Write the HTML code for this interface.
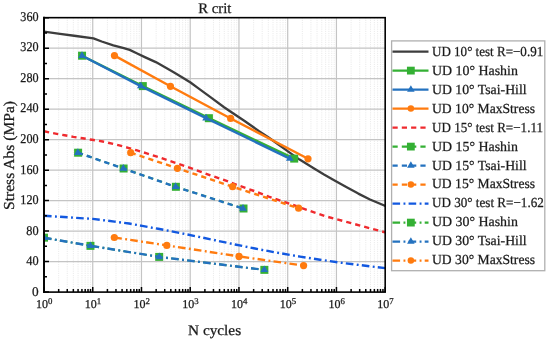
<!DOCTYPE html>
<html><head><meta charset="utf-8"><style>
html,body{margin:0;padding:0;background:#fff;}
svg{display:block;will-change:transform;}
text{font-family:"Liberation Serif",serif;fill:#1a1a1a;stroke:#1a1a1a;stroke-width:0.25px;text-rendering:geometricPrecision;}
.txtg{will-change:transform;}
.t{font-size:13.3px;}
.t2{font-size:12.0px;}
.sup{font-size:8.8px;}
.ti{font-size:14.6px;}
#ylab{font-size:15.2px;}
.lg{font-size:13.8px;}
</style></head><body>
<svg width="550" height="343" viewBox="0 0 550 343">
<rect width="550" height="343" fill="#fff"/>
<path d="M58.67 17.67V292.10 M67.25 17.67V292.10 M73.34 17.67V292.10 M78.07 17.67V292.10 M81.93 17.67V292.10 M85.19 17.67V292.10 M88.02 17.67V292.10 M90.51 17.67V292.10 M107.41 17.67V292.10 M115.99 17.67V292.10 M122.08 17.67V292.10 M126.81 17.67V292.10 M130.67 17.67V292.10 M133.93 17.67V292.10 M136.76 17.67V292.10 M139.25 17.67V292.10 M156.15 17.67V292.10 M164.73 17.67V292.10 M170.82 17.67V292.10 M175.55 17.67V292.10 M179.41 17.67V292.10 M182.67 17.67V292.10 M185.50 17.67V292.10 M187.99 17.67V292.10 M204.89 17.67V292.10 M213.47 17.67V292.10 M219.56 17.67V292.10 M224.29 17.67V292.10 M228.15 17.67V292.10 M231.41 17.67V292.10 M234.24 17.67V292.10 M236.73 17.67V292.10 M253.63 17.67V292.10 M262.21 17.67V292.10 M268.30 17.67V292.10 M273.03 17.67V292.10 M276.89 17.67V292.10 M280.15 17.67V292.10 M282.98 17.67V292.10 M285.47 17.67V292.10 M302.37 17.67V292.10 M310.95 17.67V292.10 M317.04 17.67V292.10 M321.77 17.67V292.10 M325.63 17.67V292.10 M328.89 17.67V292.10 M331.72 17.67V292.10 M334.21 17.67V292.10 M351.11 17.67V292.10 M359.69 17.67V292.10 M365.78 17.67V292.10 M370.51 17.67V292.10 M374.37 17.67V292.10 M377.63 17.67V292.10 M380.46 17.67V292.10 M382.95 17.67V292.10" stroke="#e8e8e8" stroke-width="0.9" stroke-dasharray="1.1 1.1" fill="none"/>
<path d="M92.74 17.67V292.10 M141.48 17.67V292.10 M190.22 17.67V292.10 M238.96 17.67V292.10 M287.70 17.67V292.10 M336.44 17.67V292.10 M44.00 261.61H385.18 M44.00 231.12H385.18 M44.00 200.62H385.18 M44.00 170.13H385.18 M44.00 139.64H385.18 M44.00 109.15H385.18 M44.00 78.66H385.18 M44.00 48.16H385.18" stroke="#c4c4c4" stroke-width="1.2" fill="none"/>
<defs><clipPath id="cp"><rect x="44.0" y="17.672000000000025" width="341.18" height="274.428"/></clipPath></defs>
<g clip-path="url(#cp)"><polyline points="44.0,31.6 60.0,33.9 76.0,36.0 93.5,38.4 101.7,41.5 113.3,45.3 123.8,48.1 129.7,49.9 136.7,53.2 144.8,57.1 155.8,62.1 166.3,68.0 174.1,72.6 182.0,77.2 190.5,82.5 197.8,87.9 210.1,96.9 224.1,107.2 230.0,111.3 244.6,121.0 259.1,131.2 267.9,137.0 278.1,144.3 288.3,151.6 299.6,159.6 314.1,168.6 324.0,174.6 335.0,180.8 346.7,187.2 358.3,193.6 370.0,199.5 386.0,206.3" fill="none" stroke="#3d3d3d" stroke-width="2.3" stroke-linejoin="round"/><polyline points="82.0,55.7 142.8,86.1 208.9,118.2 294.2,158.6" fill="none" stroke="#34b034" stroke-width="2.4" stroke-linejoin="round"/><rect x="78.05" y="51.70" width="8.0" height="8.0" fill="#34b034"/><rect x="138.80" y="82.10" width="8.0" height="8.0" fill="#34b034"/><rect x="204.90" y="114.20" width="8.0" height="8.0" fill="#34b034"/><rect x="290.20" y="154.60" width="8.0" height="8.0" fill="#34b034"/><polyline points="82.0,55.7 140.8,86.1 206.1,118.2 289.8,158.6" fill="none" stroke="#2472bf" stroke-width="2.4" stroke-linejoin="round"/><polygon points="82.00,51.23 85.85,57.93 78.15,57.93" fill="#2472bf"/><polygon points="140.80,81.63 144.65,88.33 136.95,88.33" fill="#2472bf"/><polygon points="206.10,113.73 209.95,120.43 202.25,120.43" fill="#2472bf"/><polygon points="289.80,154.13 293.65,160.83 285.95,160.83" fill="#2472bf"/><polyline points="114.5,55.6 170.4,86.3 230.7,118.5 308.0,158.8" fill="none" stroke="#ff7b0f" stroke-width="2.4" stroke-linejoin="round"/><circle cx="114.45" cy="55.60" r="3.6" fill="#ff7b0f"/><circle cx="170.45" cy="86.35" r="3.6" fill="#ff7b0f"/><circle cx="230.65" cy="118.45" r="3.6" fill="#ff7b0f"/><circle cx="308.00" cy="158.80" r="3.6" fill="#ff7b0f"/><polyline points="44.0,131.3 55.5,133.6 64.7,135.3 73.4,136.9 82.7,138.3 92.0,139.8 102.7,141.5 119.3,145.4 128.2,147.8 137.1,150.4 146.0,153.1 156.2,156.4 163.1,158.7 179.2,164.2 189.4,167.6 199.6,171.3 211.2,175.6 227.3,181.2 239.6,185.9 254.2,191.0 268.7,196.6 283.3,201.6 304.0,208.8 324.5,216.0 347.4,222.1 364.9,226.9 386.0,232.5" fill="none" stroke="#ef2a2e" stroke-width="2.4" stroke-linejoin="round" stroke-dasharray="5.2 4.1"/><polyline points="78.1,152.7 123.6,168.5 175.9,186.8 243.5,208.5" fill="none" stroke="#34b034" stroke-width="1.9" stroke-linejoin="round" stroke-dasharray="5.2 4.1"/><rect x="74.10" y="148.70" width="8.0" height="8.0" fill="#34b034"/><rect x="119.60" y="164.50" width="8.0" height="8.0" fill="#34b034"/><rect x="171.90" y="182.80" width="8.0" height="8.0" fill="#34b034"/><rect x="239.50" y="204.50" width="8.0" height="8.0" fill="#34b034"/><polyline points="77.9,152.7 123.3,168.5 175.6,186.8 243.0,208.5" fill="none" stroke="#2472bf" stroke-width="2.4" stroke-linejoin="round" stroke-dasharray="5.2 4.1"/><polygon points="77.90,148.23 81.75,154.93 74.05,154.93" fill="#2472bf"/><polygon points="123.30,164.03 127.15,170.73 119.45,170.73" fill="#2472bf"/><polygon points="175.60,182.33 179.45,189.03 171.75,189.03" fill="#2472bf"/><polygon points="243.00,204.03 246.85,210.73 239.15,210.73" fill="#2472bf"/><polyline points="130.7,152.7 177.4,168.3 232.6,186.7 298.6,208.2" fill="none" stroke="#ff7b0f" stroke-width="2.4" stroke-linejoin="round" stroke-dasharray="5.2 4.1"/><circle cx="130.70" cy="152.70" r="3.6" fill="#ff7b0f"/><circle cx="177.40" cy="168.30" r="3.6" fill="#ff7b0f"/><circle cx="232.60" cy="186.70" r="3.6" fill="#ff7b0f"/><circle cx="298.60" cy="208.20" r="3.6" fill="#ff7b0f"/><polyline points="44.0,215.8 92.8,218.9 100.0,219.8 114.5,221.6 129.1,223.5 142.2,225.9 158.2,228.8 169.8,231.0 180.0,233.0 195.0,236.1 215.0,240.2 235.0,244.5 255.0,248.5 275.0,252.3 300.0,256.6 320.0,259.7 340.0,262.6 360.0,265.1 386.0,268.2" fill="none" stroke="#1258e0" stroke-width="2.4" stroke-linejoin="round" stroke-dasharray="7.6 3.4 1.9 3.2"/><polyline points="44.0,237.7 90.5,245.8 159.2,256.9 264.4,269.9" fill="none" stroke="#34b034" stroke-width="1.9" stroke-linejoin="round" stroke-dasharray="7.6 3.4 1.9 3.2"/><rect x="40.00" y="233.65" width="8.0" height="8.0" fill="#34b034"/><rect x="86.45" y="241.85" width="8.0" height="8.0" fill="#34b034"/><rect x="155.20" y="252.90" width="8.0" height="8.0" fill="#34b034"/><rect x="260.35" y="265.85" width="8.0" height="8.0" fill="#34b034"/><polyline points="44.0,237.7 90.5,245.8 159.2,256.9 264.4,269.9" fill="none" stroke="#2472bf" stroke-width="2.4" stroke-linejoin="round" stroke-dasharray="7.6 3.4 1.9 3.2"/><polygon points="44.00,233.18 47.85,239.88 40.15,239.88" fill="#2472bf"/><polygon points="90.45,241.38 94.30,248.08 86.60,248.08" fill="#2472bf"/><polygon points="159.20,252.43 163.05,259.13 155.35,259.13" fill="#2472bf"/><polygon points="264.35,265.38 268.20,272.08 260.50,272.08" fill="#2472bf"/><polyline points="114.3,237.5 166.8,245.4 239.0,256.4 303.6,265.6" fill="none" stroke="#ff7b0f" stroke-width="2.4" stroke-linejoin="round" stroke-dasharray="7.6 3.4 1.9 3.2"/><circle cx="114.30" cy="237.50" r="3.6" fill="#ff7b0f"/><circle cx="166.80" cy="245.45" r="3.6" fill="#ff7b0f"/><circle cx="239.00" cy="256.40" r="3.6" fill="#ff7b0f"/><circle cx="303.60" cy="265.60" r="3.6" fill="#ff7b0f"/></g>
<path d="M44.00 292.10v-5 M44.00 17.67v0 M58.67 292.10v-3 M67.25 292.10v-3 M73.34 292.10v-3 M78.07 292.10v-3 M81.93 292.10v-3 M85.19 292.10v-3 M88.02 292.10v-3 M90.51 292.10v-3 M92.74 292.10v-5 M92.74 17.67v0 M107.41 292.10v-3 M115.99 292.10v-3 M122.08 292.10v-3 M126.81 292.10v-3 M130.67 292.10v-3 M133.93 292.10v-3 M136.76 292.10v-3 M139.25 292.10v-3 M141.48 292.10v-5 M141.48 17.67v0 M156.15 292.10v-3 M164.73 292.10v-3 M170.82 292.10v-3 M175.55 292.10v-3 M179.41 292.10v-3 M182.67 292.10v-3 M185.50 292.10v-3 M187.99 292.10v-3 M190.22 292.10v-5 M190.22 17.67v0 M204.89 292.10v-3 M213.47 292.10v-3 M219.56 292.10v-3 M224.29 292.10v-3 M228.15 292.10v-3 M231.41 292.10v-3 M234.24 292.10v-3 M236.73 292.10v-3 M238.96 292.10v-5 M238.96 17.67v0 M253.63 292.10v-3 M262.21 292.10v-3 M268.30 292.10v-3 M273.03 292.10v-3 M276.89 292.10v-3 M280.15 292.10v-3 M282.98 292.10v-3 M285.47 292.10v-3 M287.70 292.10v-5 M287.70 17.67v0 M302.37 292.10v-3 M310.95 292.10v-3 M317.04 292.10v-3 M321.77 292.10v-3 M325.63 292.10v-3 M328.89 292.10v-3 M331.72 292.10v-3 M334.21 292.10v-3 M336.44 292.10v-5 M336.44 17.67v0 M351.11 292.10v-3 M359.69 292.10v-3 M365.78 292.10v-3 M370.51 292.10v-3 M374.37 292.10v-3 M377.63 292.10v-3 M380.46 292.10v-3 M382.95 292.10v-3 M385.18 292.10v-5 M385.18 17.67v0 M44.00 292.10h5 M44.00 261.61h5 M44.00 231.12h5 M44.00 200.62h5 M44.00 170.13h5 M44.00 139.64h5 M44.00 109.15h5 M44.00 78.66h5 M44.00 48.16h5 M44.00 17.67h5 M44.00 276.85h3 M44.00 246.36h3 M44.00 215.87h3 M44.00 185.38h3 M44.00 154.89h3 M44.00 124.39h3 M44.00 93.90h3 M44.00 63.41h3 M44.00 32.92h3" stroke="#000" stroke-width="1.5" fill="none"/>
<rect x="44.00" y="17.67" width="341.18" height="274.43" fill="none" stroke="#000" stroke-width="1.6"/>
<path d="M44.00 16.87V292.90" stroke="#000" stroke-width="1.75"/>
<text id="y0" x="38.60" y="296.10" text-anchor="end" class="t">0</text>
<text id="y40" x="38.60" y="265.49" text-anchor="end" textLength="12.32" lengthAdjust="spacingAndGlyphs" class="t">40</text>
<text id="y80" x="38.60" y="234.88" text-anchor="end" textLength="12.32" lengthAdjust="spacingAndGlyphs" class="t">80</text>
<text id="y120" x="38.60" y="204.27" text-anchor="end" textLength="18.25" lengthAdjust="spacingAndGlyphs" class="t">120</text>
<text id="y160" x="38.60" y="173.67" text-anchor="end" textLength="18.25" lengthAdjust="spacingAndGlyphs" class="t">160</text>
<text id="y200" x="38.60" y="143.06" text-anchor="end" textLength="18.25" lengthAdjust="spacingAndGlyphs" class="t">200</text>
<text id="y240" x="38.60" y="112.45" text-anchor="end" textLength="18.25" lengthAdjust="spacingAndGlyphs" class="t">240</text>
<text id="y280" x="38.60" y="81.84" text-anchor="end" textLength="18.25" lengthAdjust="spacingAndGlyphs" class="t">280</text>
<text id="y320" x="38.60" y="51.23" text-anchor="end" textLength="18.25" lengthAdjust="spacingAndGlyphs" class="t">320</text>
<text id="y360" x="38.60" y="20.62" text-anchor="end" textLength="18.25" lengthAdjust="spacingAndGlyphs" class="t">360</text>
<text id="x0" x="44.20" y="308.4" text-anchor="middle" class="t2">10<tspan dy="-4.3" class="sup">0</tspan></text>
<text id="x1" x="92.94" y="308.4" text-anchor="middle" class="t2">10<tspan dy="-4.3" class="sup">1</tspan></text>
<text id="x2" x="141.68" y="308.4" text-anchor="middle" class="t2">10<tspan dy="-4.3" class="sup">2</tspan></text>
<text id="x3" x="190.42" y="308.4" text-anchor="middle" class="t2">10<tspan dy="-4.3" class="sup">3</tspan></text>
<text id="x4" x="239.16" y="308.4" text-anchor="middle" class="t2">10<tspan dy="-4.3" class="sup">4</tspan></text>
<text id="x5" x="287.90" y="308.4" text-anchor="middle" class="t2">10<tspan dy="-4.3" class="sup">5</tspan></text>
<text id="x6" x="336.64" y="308.4" text-anchor="middle" class="t2">10<tspan dy="-4.3" class="sup">6</tspan></text>
<text id="x7" x="385.38" y="308.4" text-anchor="middle" class="t2">10<tspan dy="-4.3" class="sup">7</tspan></text>
<text id="title" x="198.20" y="12.80" textLength="33.16" lengthAdjust="spacingAndGlyphs" class="ti">R crit</text>
<text id="xlab" x="188.00" y="334.70" textLength="53.12" lengthAdjust="spacingAndGlyphs" class="ti">N cycles</text>
<text id="ylab" transform="translate(13.8,155.5) rotate(-90)" text-anchor="middle" textLength="109.00" lengthAdjust="spacingAndGlyphs" class="ti">Stress Abs (MPa)</text>
<rect x="391.6" y="40.9" width="153.19999999999993" height="229.79999999999998" fill="#fff" stroke="#b0b0b0" stroke-width="1.3"/>
<polyline points="392.5,51.6 428.5,51.6" fill="none" stroke="#3d3d3d" stroke-width="2.2" stroke-linejoin="round"/>
<text id="lg0" x="432.00" y="56.10" textLength="111.19" lengthAdjust="spacingAndGlyphs" class="lg">UD 10° test R=−0.91</text>
<polyline points="392.5,70.6 428.5,70.6" fill="none" stroke="#34b034" stroke-width="2.2" stroke-linejoin="round"/>
<rect x="406.95" y="66.70" width="7.8" height="7.8" fill="#34b034"/>
<text id="lg1" x="432.00" y="75.00" textLength="85.86" lengthAdjust="spacingAndGlyphs" class="lg">UD 10° Hashin</text>
<polyline points="392.5,89.6 428.5,89.6" fill="none" stroke="#2472bf" stroke-width="2.2" stroke-linejoin="round"/>
<polygon points="410.85,85.27 414.65,91.77 407.05,91.77" fill="#2472bf"/>
<text id="lg2" x="432.00" y="93.90" textLength="94.56" lengthAdjust="spacingAndGlyphs" class="lg">UD 10° Tsai-Hill</text>
<polyline points="392.5,108.6 428.5,108.6" fill="none" stroke="#ff7b0f" stroke-width="2.2" stroke-linejoin="round"/>
<circle cx="410.85" cy="108.60" r="3.25" fill="#ff7b0f"/>
<text id="lg3" x="432.00" y="112.80" textLength="103.05" lengthAdjust="spacingAndGlyphs" class="lg">UD 10° MaxStress</text>
<polyline points="392.5,127.6 428.5,127.6" fill="none" stroke="#ef2a2e" stroke-width="2.2" stroke-linejoin="round" stroke-dasharray="5.2 4.1"/>
<text id="lg4" x="432.00" y="131.70" textLength="110.99" lengthAdjust="spacingAndGlyphs" class="lg">UD 15° test R=−1.11</text>
<polyline points="392.5,146.6 428.5,146.6" fill="none" stroke="#34b034" stroke-width="2.2" stroke-linejoin="round" stroke-dasharray="5.2 4.1"/>
<rect x="406.95" y="142.70" width="7.8" height="7.8" fill="#34b034"/>
<text id="lg5" x="432.00" y="150.60" textLength="85.86" lengthAdjust="spacingAndGlyphs" class="lg">UD 15° Hashin</text>
<polyline points="392.5,165.6 428.5,165.6" fill="none" stroke="#2472bf" stroke-width="2.2" stroke-linejoin="round" stroke-dasharray="5.2 4.1"/>
<polygon points="410.85,161.27 414.65,167.77 407.05,167.77" fill="#2472bf"/>
<text id="lg6" x="432.00" y="169.50" textLength="94.56" lengthAdjust="spacingAndGlyphs" class="lg">UD 15° Tsai-Hill</text>
<polyline points="392.5,184.6 428.5,184.6" fill="none" stroke="#ff7b0f" stroke-width="2.2" stroke-linejoin="round" stroke-dasharray="5.2 4.1"/>
<circle cx="410.85" cy="184.60" r="3.25" fill="#ff7b0f"/>
<text id="lg7" x="432.00" y="188.40" textLength="103.05" lengthAdjust="spacingAndGlyphs" class="lg">UD 15° MaxStress</text>
<polyline points="392.5,203.6 428.5,203.6" fill="none" stroke="#1258e0" stroke-width="2.2" stroke-linejoin="round" stroke-dasharray="7.6 3.4 1.9 3.2"/>
<text id="lg8" x="432.00" y="207.30" textLength="111.78" lengthAdjust="spacingAndGlyphs" class="lg">UD 30° test R=−1.62</text>
<polyline points="392.5,222.6 428.5,222.6" fill="none" stroke="#34b034" stroke-width="2.2" stroke-linejoin="round" stroke-dasharray="7.6 3.4 1.9 3.2"/>
<rect x="406.95" y="218.70" width="7.8" height="7.8" fill="#34b034"/>
<text id="lg9" x="432.00" y="226.20" textLength="85.86" lengthAdjust="spacingAndGlyphs" class="lg">UD 30° Hashin</text>
<polyline points="392.5,241.6 428.5,241.6" fill="none" stroke="#2472bf" stroke-width="2.2" stroke-linejoin="round" stroke-dasharray="7.6 3.4 1.9 3.2"/>
<polygon points="410.85,237.27 414.65,243.77 407.05,243.77" fill="#2472bf"/>
<text id="lg10" x="432.00" y="245.10" textLength="94.56" lengthAdjust="spacingAndGlyphs" class="lg">UD 30° Tsai-Hill</text>
<polyline points="392.5,260.6 428.5,260.6" fill="none" stroke="#ff7b0f" stroke-width="2.2" stroke-linejoin="round" stroke-dasharray="7.6 3.4 1.9 3.2"/>
<circle cx="410.85" cy="260.60" r="3.25" fill="#ff7b0f"/>
<text id="lg11" x="432.00" y="264.00" textLength="103.05" lengthAdjust="spacingAndGlyphs" class="lg">UD 30° MaxStress</text>
</svg>
</body></html>
